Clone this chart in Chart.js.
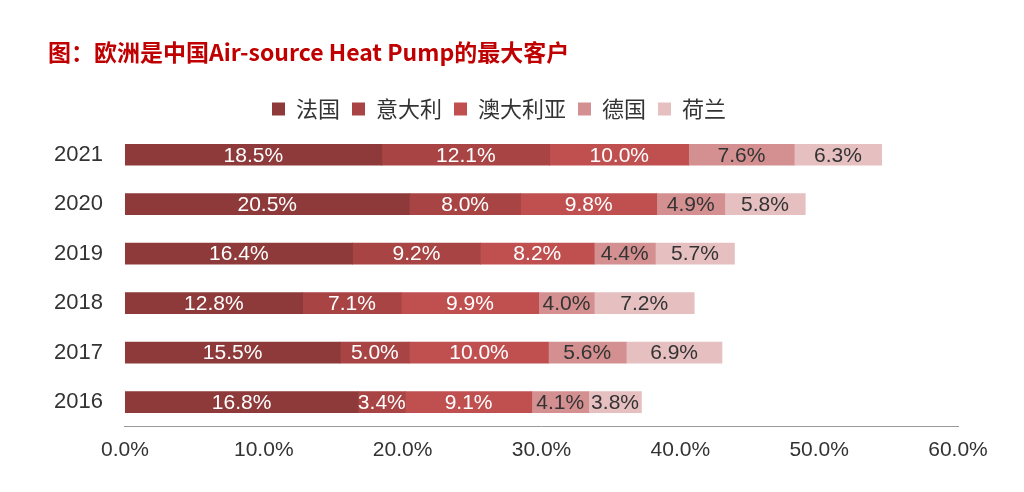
<!DOCTYPE html><html><head><meta charset="utf-8">
<script src="https://cdn.jsdelivr.net/npm/chart.js@4"></script>
<style>body{margin:0;background:#fff}#w{position:relative;width:1024px;height:492px}
#t{position:absolute;left:48px;top:34px;font:bold 23px "Noto Sans CJK SC","Liberation Sans",sans-serif;color:#C00000}</style></head>
<body><div id="w"><div id="t">图：欧洲是中国Air-source Heat Pump的最大客户</div><canvas id="c" width="1024" height="492"></canvas></div>
<script>
const years=['2021','2020','2019','2018','2017','2016'];
const seriesNames=['法国','意大利','澳大利亚','德国','荷兰'];
const france=[18.5,20.5,16.4,12.8,15.5,16.8];
const italy=[12.1,8.0,9.2,7.1,5.0,3.4];
const australia=[10.0,9.8,8.2,9.9,10.0,9.1];
const germany=[7.6,4.9,4.4,4.0,5.6,4.1];
const netherlands=[6.3,5.8,5.7,7.2,6.9,3.8];
const ticks=[0,10,20,30,40,50,60];
const colors=['#8E3A3A','#A84444','#C05050','#D49090','#E6BFC0'];
const vals=[france,italy,australia,germany,netherlands];
const lbl={id:'lbl',afterDatasetsDraw(ch){const x=ch.ctx;x.save();x.font='21px "Liberation Sans",sans-serif';x.textAlign='center';x.textBaseline='middle';
ch.data.datasets.forEach((d,i)=>{ch.getDatasetMeta(i).data.forEach((b,j)=>{x.fillStyle=i<3?'#fff':'#333';x.fillText(d.data[j].toFixed(1)+'%',(b.base+b.x)/2,b.y+1);});});x.restore();}};
new Chart(document.getElementById('c'),{type:'bar',plugins:[lbl],
data:{labels:years,datasets:seriesNames.map((n,i)=>({label:n,data:vals[i],backgroundColor:colors[i],barThickness:21}))},
options:{indexAxis:'y',responsive:false,animation:false,
layout:{padding:{top:86,left:40,right:66,bottom:26}},
plugins:{legend:{position:'top',labels:{boxWidth:13,boxHeight:13,padding:12,color:'#333',font:{size:22,family:'"Noto Sans CJK SC",sans-serif'}}},tooltip:{enabled:false}},
scales:{x:{stacked:true,min:0,max:60,grid:{display:false,drawTicks:true},border:{color:'#999'},
ticks:{stepSize:10,color:'#333',font:{size:21,family:'"Liberation Sans",sans-serif'},callback:v=>ticks.includes(v)?v.toFixed(1)+'%':''}},
y:{stacked:true,grid:{display:false},border:{display:false},ticks:{padding:14,color:'#333',font:{size:22,family:'"Liberation Sans",sans-serif'}}}}}});
</script></body></html>
